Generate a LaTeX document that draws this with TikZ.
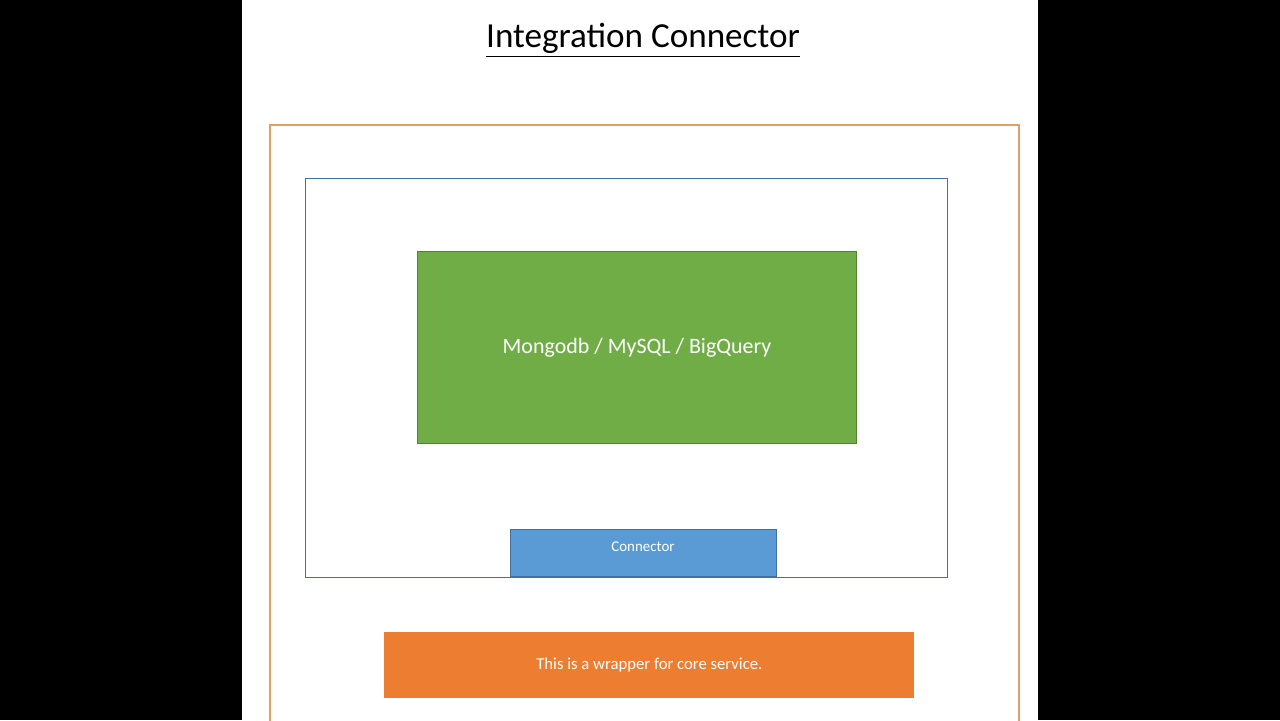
\documentclass[tikz,border=0pt]{standalone}
\usepackage{fontspec}
\setmainfont{Carlito}
\usetikzlibrary{positioning}
\definecolor{wrapline}{HTML}{E0A062}
\definecolor{coreline}{HTML}{41719C}
\definecolor{dbfill}{HTML}{70AD47}
\definecolor{dbline}{HTML}{548235}
\definecolor{connfill}{HTML}{5B9BD5}
\definecolor{notefill}{HTML}{ED7D31}
\tikzset{
        box/.style={rectangle, inner sep=0pt, anchor=north west},
        % Filled boxes with white text
        box_filled/.style={box, text=white, align=center}
}
\begin{document}
\begin{tikzpicture}[x=0.02cm, y=-0.02cm]
    \useasboundingbox (0,0) rectangle (1280,720);
    \fill[black] (0,0) rectangle (1280,720);
    \fill[white] (242,0) rectangle (1038,720);
    \node[font=\fontsize{20}{24}\selectfont] (title) at (643,40) {\underline{Integration Connector}};
    % Wrapper and service frames
    \draw[wrapline, line width=0.8pt] (270,725) -- (270,125) -- (1019,125) -- (1019,725);
    \node[box, draw=coreline, line width=0.6pt, minimum width=642*0.02cm, minimum height=399*0.02cm] (service) at (305,178) {};
    \node[box_filled, fill=dbfill, draw=dbline, line width=0.6pt, minimum width=439*0.02cm, minimum height=192*0.02cm,
          font=\fontsize{12.5}{15}\selectfont] (db) at (417,251) {Mongodb / MySQL / BigQuery};
    \node[box, fill=connfill, draw=coreline, line width=0.6pt, minimum width=266*0.02cm, minimum height=47*0.02cm] (conn) at (510,529) {};
    \node[text=white, font=\fontsize{8.5}{10}\selectfont] (connlabel) at (643,547) {Connector};
    \node[box_filled, fill=notefill, minimum width=530*0.02cm, minimum height=66*0.02cm,
          font=\fontsize{9.5}{11}\selectfont] (note) at (384,632) {This is a wrapper for core service.};
\end{tikzpicture}
\end{document}
